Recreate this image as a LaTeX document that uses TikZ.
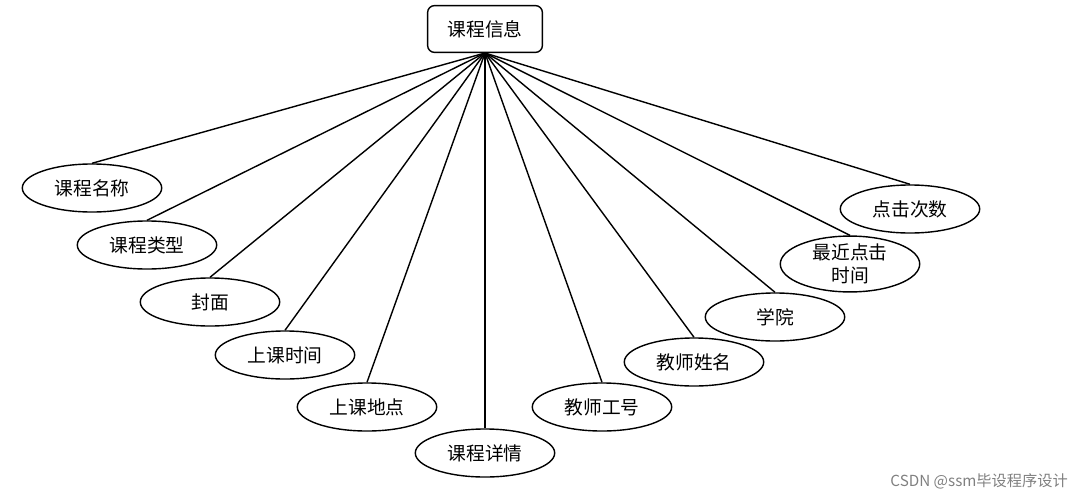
\documentclass[tikz,border=0pt]{standalone}
\usepackage{fontspec}
\setmainfont{Noto Sans CJK SC}
\usetikzlibrary{shapes.geometric}
\begin{document}
\begin{tikzpicture}[x=0.03cm,y=-0.03cm,
  attr/.style={ellipse,draw,line width=1.2pt,minimum width=119pt,minimum height=41pt,inner sep=0pt,font=\fontsize{16}{19}\selectfont,align=center},
  ent/.style={draw,line width=1.2pt,rounded corners=6pt,minimum width=98pt,minimum height=40pt,font=\fontsize{16}{19}\selectfont},
  conn/.style={line width=1.2pt}]
\useasboundingbox (0,0) rectangle (1084,500);
\node[ent] (root) at (485,29) {课程信息};
\coordinate (hub) at (485,53);
\node[attr] (a1) at (92,188) {课程名称};
\node[attr] (a2) at (147,245) {课程类型};
\node[attr] (a3) at (210,302) {封面};
\node[attr] (a4) at (285,355) {上课时间};
\node[attr] (a5) at (367,407) {上课地点};
\node[attr] (a6) at (485,453) {课程详情};
\node[attr] (a7) at (602,407) {教师工号};
\node[attr] (a8) at (694,362) {教师姓名};
\node[attr] (a9) at (775,317) {学院};
\node[attr,minimum height=45pt] (a10) at (850,264) {最近点击\\时间};
\node[attr] (a11) at (910,209) {点击次数};
\foreach \n in {a1,a2,a3,a4,a5,a6,a7,a8,a9,a10,a11}
  \draw[conn] (hub) -- (\n.north);
\node[font=\fontsize{13}{15}\selectfont,text=gray,anchor=east] (wm) at (1072,481) {CSDN @ssm毕设程序设计};
\end{tikzpicture}
\end{document}
